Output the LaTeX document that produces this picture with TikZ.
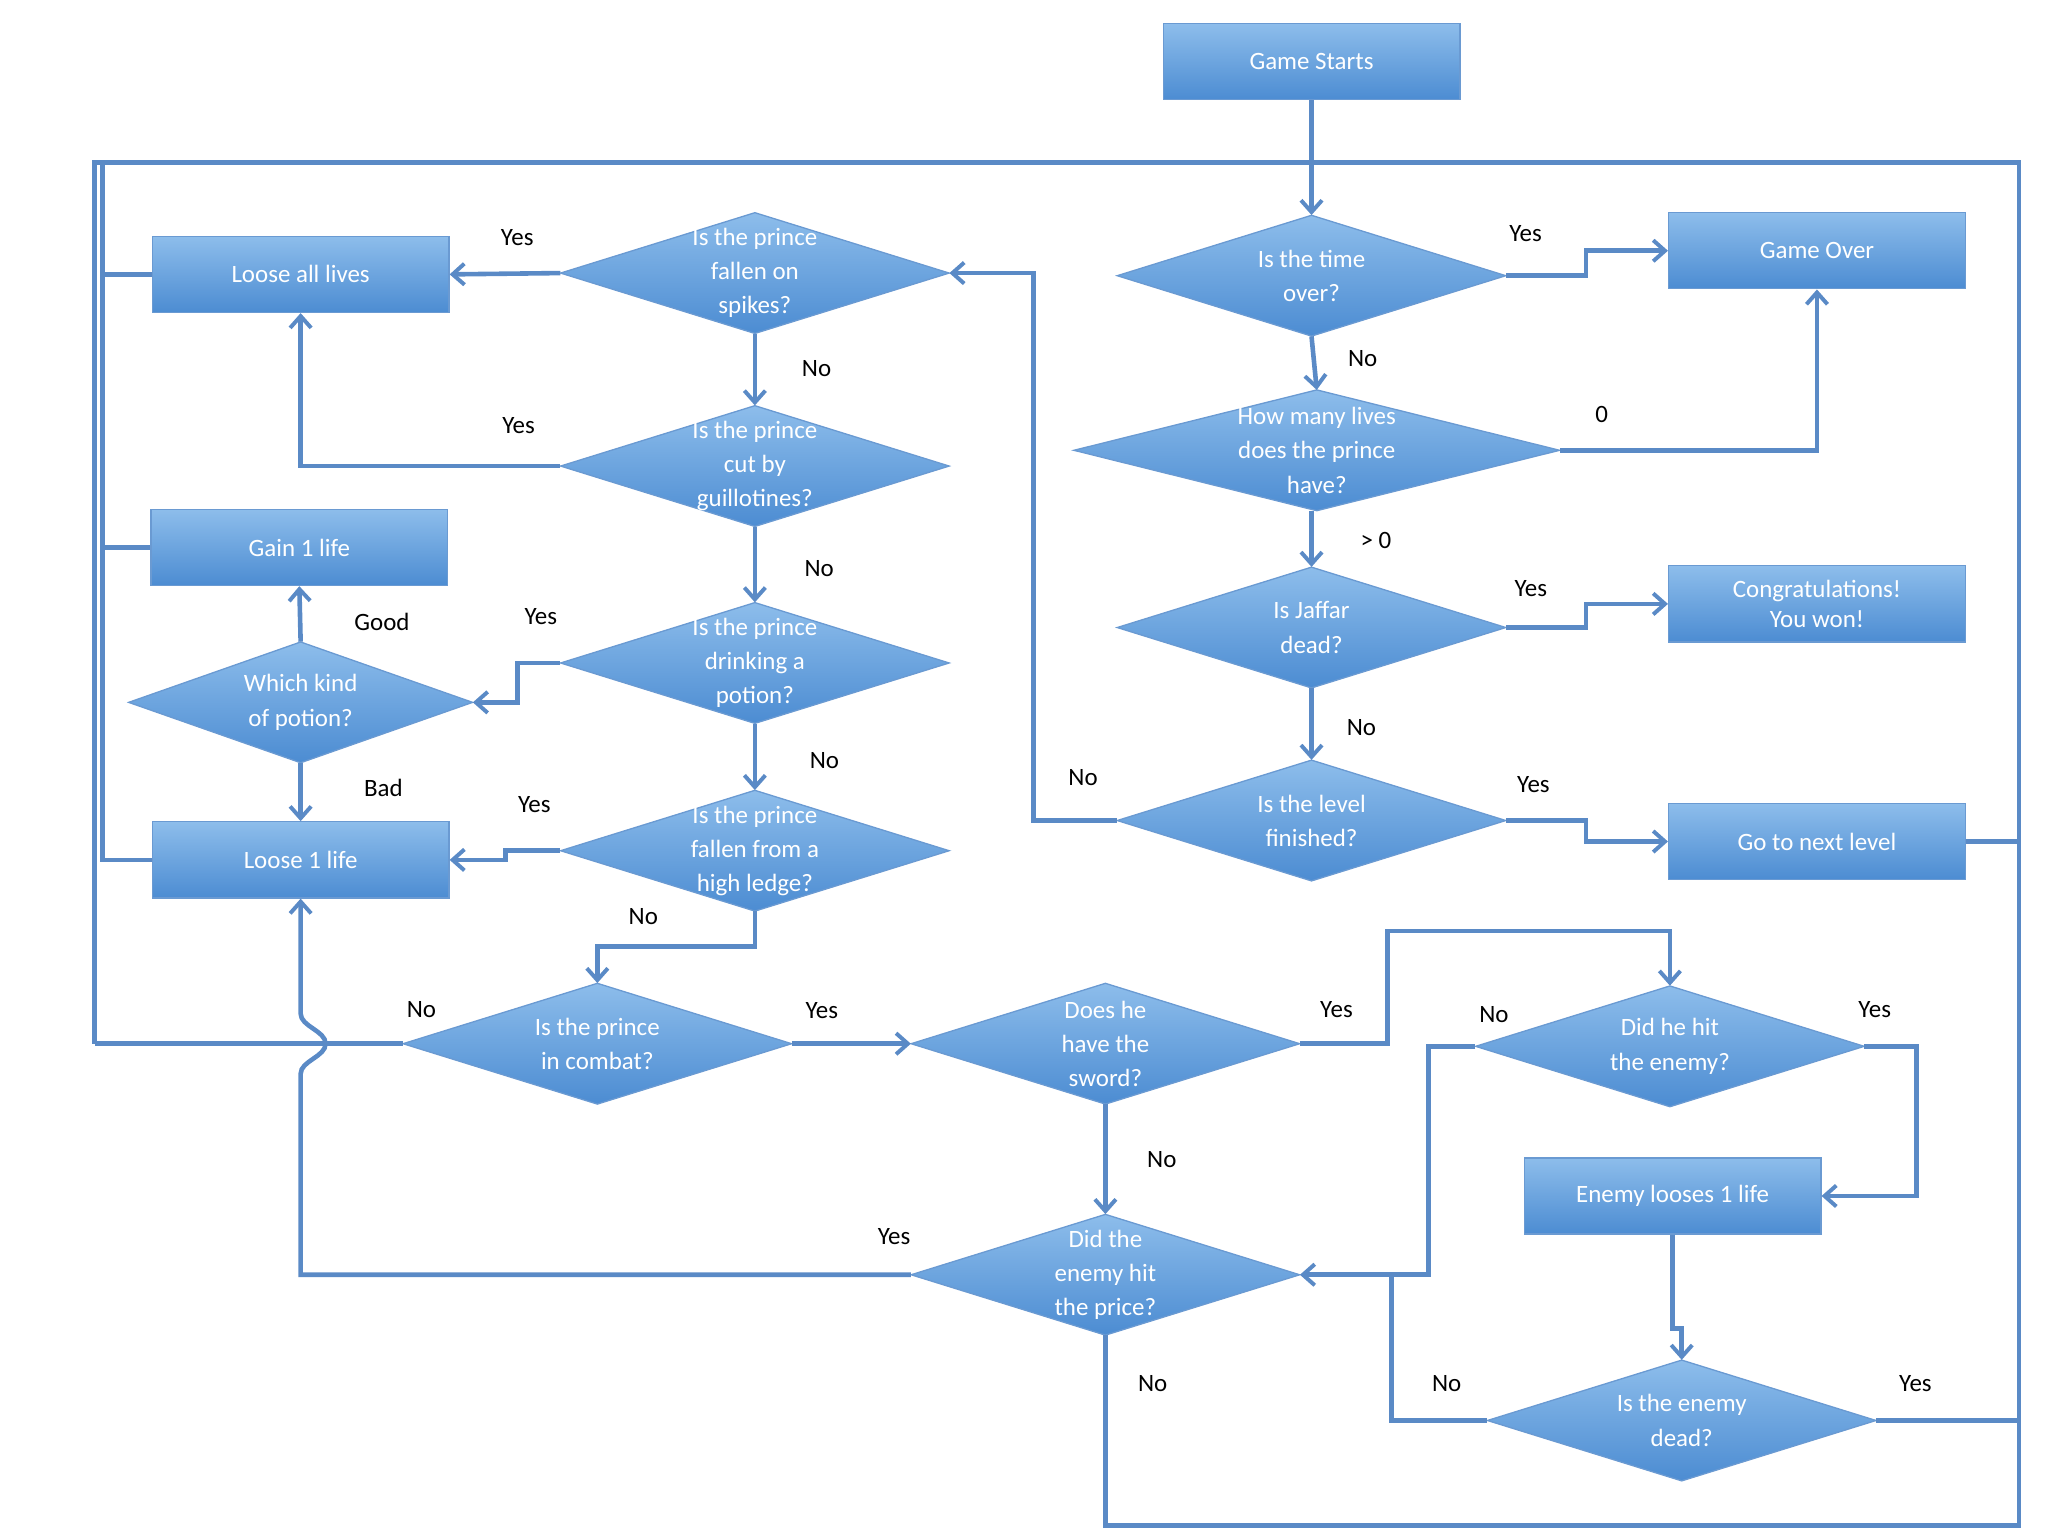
\documentclass[tikz,border=0pt]{standalone}
\usepackage{fontspec}
\setmainfont{Carlito}
\usetikzlibrary{arrows.meta}
\definecolor{ln}{HTML}{5A8AC6}
\definecolor{ftop}{HTML}{8DBDEB}
\definecolor{fbot}{HTML}{4C8CD2}
\definecolor{bd}{HTML}{6A9AD2}
\tikzset{
 fl/.style={top color=ftop,bottom color=fbot,draw=bd,line width=1pt},
 dtext/.style={shape=rectangle,minimum height=92pt,inner sep=0pt,align=center,text=white,font=\fontsize{19}{26}\selectfont},
 box/.style={fl,shape=rectangle,minimum width=226pt,minimum height=58pt,inner sep=0pt,align=center,text=white,font=\fontsize{19}{26}\selectfont},
 c/.style={draw=ln,line width=3.5pt,line join=miter},
 a/.style={c,-{Straight Barb[length=9pt,width=16pt,line width=3pt]}},
 lb/.style={font=\fontsize{19}{22}\selectfont,text=black}
}
\newcommand\dia[5]{%
 \path[fl] ({#2-#4/2},#3) -- (#2,#3-46) -- ({#2+#4/2},#3) -- (#2,#3+46) -- cycle;
 \node[dtext,minimum width=#4pt] (#1) at (#2,#3) {#5};}
\begin{document}
\begin{tikzpicture}[x=1pt,y=-1pt]
\useasboundingbox (0,0) rectangle (1560,1170);
% boxes
\node[box] (start) at (999,47) {Game Starts};
\node[box] (over) at (1384,191) {Game Over};
\node[box] (congr) at (1384,460) {Congratulations!\\[-3pt]You won!};
\node[box] (next) at (1384,641) {Go to next level};
\node[box] (loseall) at (229,209) {Loose all lives};
\node[box] (gain) at (228,417) {Gain 1 life};
\node[box] (lose1) at (229,655) {Loose 1 life};
\node[box] (elose) at (1274,911) {Enemy looses 1 life};
% diamonds
\dia{time}{999}{210}{296}{Is the time\\over?}
\dia{lives}{1003}{343}{370}{How many lives\\does the prince\\have?}
\dia{jaffar}{999}{478}{296}{Is Jaffar\\dead?}
\dia{level}{999}{625}{296}{Is the level\\finished?}
\dia{spikes}{575}{208}{296}{Is the prince\\fallen on\\spikes?}
\dia{guill}{575}{355}{296}{Is the prince\\cut by\\guillotines?}
\dia{drink}{575}{505}{296}{Is the prince\\drinking a\\potion?}
\dia{potion}{229}{535}{262}{Which kind\\of potion?}
\dia{ledge}{575}{648}{296}{Is the prince\\fallen from a\\high ledge?}
\dia{combat}{455}{795}{296}{Is the prince\\in combat?}
\dia{sword}{842}{795}{296}{Does he\\have the\\sword?}
\dia{hit}{1272}{797}{296}{Did he hit\\the enemy?}
\dia{ehit}{842}{971}{296}{Did the\\enemy hit\\the price?}
\dia{dead}{1281}{1082}{296}{Is the enemy\\dead?}
% loop frame
\coordinate (tl) at (72,124); \coordinate (tr) at (1538,124);
\draw[c] (72,795) -- (tl) -- (tr) -- (1538,1162) -- (842,1162) -- (ehit.south);
\draw[c] (loseall.west) -- (78,209);
\draw[c] (gain.west) -- (78,417);
\draw[c] (lose1.west) -- (78,655) -- (78,124);
\draw[a] (start.south) -- (time.north);
\draw[c] (next.east) -- (1538,641);
\draw[c] (dead.east) -- (1538,1082);
% right column
\draw[a] (time.east) -- (1208,210) -- (1208,191) -- (over.west);
\draw[a] (time.south) -- (1003,297);
\draw[a] (lives.east) -- (1384,343) -- (over.south);
\draw[a] (999,389) -- (jaffar.north);
\draw[a] (jaffar.east) -- (1208,478) -- (1208,460) -- (congr.west);
\draw[a] (jaffar.south) -- (level.north);
\draw[a] (level.east) -- (1208,625) -- (1208,641) -- (next.west);
\draw[a] (level.west) -- (787,625) -- (787,208) -- (spikes.east);
% left column
\draw[a] (spikes.west) -- (loseall.east);
\draw[a] (spikes.south) -- (guill.north);
\draw[a] (guill.west) -- (229,355) -- (loseall.south);
\draw[a] (guill.south) -- (drink.north);
\draw[a] (drink.west) -- (394,505) -- (394,535) -- (potion.east);
\draw[a] (drink.south) -- (ledge.north);
\draw[a] (potion.north) -- (gain.south);
\draw[a] (potion.south) -- (lose1.north);
\draw[a] (ledge.west) -- (385,648) -- (385,655) -- (lose1.east);
\draw[a] (ledge.south) -- (575,721) -- (455,721) -- (combat.north);
\draw[c] (combat.west) -- (72,795);
\draw[a] (combat.east) -- (sword.west);
\draw[a] (sword.east) -- (1057,795) -- (1057,709) -- (1272,709) -- (hit.north);
\draw[a] (sword.south) -- (ehit.north);
\draw[a] (hit.east) -- (1460,797) -- (1460,911) -- (elose.east);
\draw[a] (hit.west) -- (1088,797) -- (1088,971) -- (ehit.east);
\draw[a] (elose.south) -- (1274,1012) -- (1281,1012) -- (dead.north);
\draw[c] (dead.west) -- (1060,1082) -- (1060,971);
\draw[a] (ehit.west) -- (229,971) -- (229,818) .. controls (229,808) and (248,805) .. (248,795) .. controls (248,785) and (229,782) .. (229,772) -- (lose1.south);
% labels
\node[lb] at (1162,178) {Yes};
\node[lb] at (1038,273) {No};
\node[lb] at (1220,316) {0};
\node[lb] at (1048,412) {> 0};
\node[lb] at (1166,448) {Yes};
\node[lb] at (1037,554) {No};
\node[lb] at (1168,598) {Yes};
\node[lb] at (825,592) {No};
\node[lb] at (394,181) {Yes};
\node[lb] at (622,281) {No};
\node[lb] at (395,324) {Yes};
\node[lb] at (624,433) {No};
\node[lb] at (412,470) {Yes};
\node[lb] at (628,579) {No};
\node[lb] at (291,474) {Good};
\node[lb] at (292,600) {Bad};
\node[lb] at (407,613) {Yes};
\node[lb] at (490,698) {No};
\node[lb] at (321,769) {No};
\node[lb] at (626,770) {Yes};
\node[lb] at (1018,769) {Yes};
\node[lb] at (885,883) {No};
\node[lb] at (1428,769) {Yes};
\node[lb] at (1138,773) {No};
\node[lb] at (681,942) {Yes};
\node[lb] at (878,1054) {No};
\node[lb] at (1102,1054) {No};
\node[lb] at (1459,1054) {Yes};
\end{tikzpicture}
\end{document}
